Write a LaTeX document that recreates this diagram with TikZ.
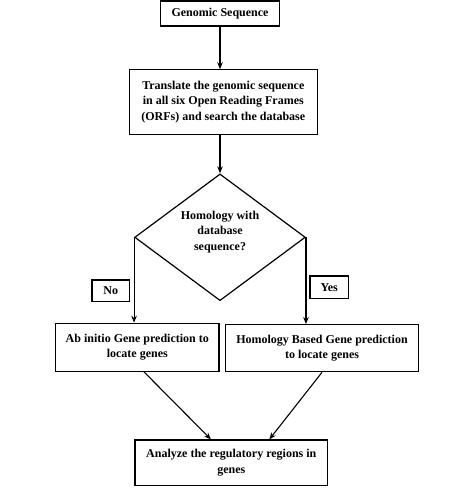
\documentclass[tikz,border=0pt]{standalone}
\usepackage{fontspec}
\setmainfont{Liberation Serif}
\usetikzlibrary{shapes.geometric,arrows.meta}
\begin{document}
\begin{tikzpicture}[x=1pt,y=-1pt,
  every node/.style={font=\bfseries\fontsize{12}{15.5}\selectfont, align=center, inner sep=0pt},
  box/.style={draw, line width=1.2pt, rectangle},
  dec/.style={draw, line width=1.2pt, diamond},
  arr/.style={line width=1.1pt, -{Stealth[length=7pt,width=5.5pt]}}]
\useasboundingbox (0,0) rectangle (474,497);
\node[box, minimum width=118.6pt, minimum height=25pt] (gs) at (220,13.5) {Genomic Sequence};
\node[box, minimum width=188pt, minimum height=64.3pt] (tr) at (223.3,102) {Translate the genomic sequence\\in all six Open Reading Frames\\(ORFs) and search the database};
\node[dec, minimum width=170.7pt, minimum height=126.7pt] (hom) at (220,237.3) {};
\node (homt) at (220,232) {Homology with\\database\\sequence?};
\node[box, minimum width=37.3pt, minimum height=21.7pt] (no) at (110.7,290.8) {No};
\node[box, minimum width=38.3pt, minimum height=22.3pt] (yes) at (329.2,287.2) {Yes};
\node[box, minimum width=163.3pt, minimum height=48pt] (ab) at (137.3,347.3) {Ab initio Gene prediction to\\locate genes};
\node[box, minimum width=192.7pt, minimum height=47pt] (hb) at (322,348.2) {Homology Based Gene prediction\\to locate genes};
\node[box, minimum width=192.7pt, minimum height=45.3pt] (an) at (231.3,462.7) {Analyze the regulatory regions in\\genes};
\draw[arr] (gs.south) -- (gs.south |- tr.north);
\draw[arr] (hom.north |- tr.south) -- (hom.north);
\draw[arr] (hom.west) -- (hom.west |- ab.north);
\draw[arr] (hom.east) -- (hom.east |- hb.north);
\draw[arr] ([xshift=6.7pt]ab.south) -- ([xshift=-20.3pt]an.north);
\draw[arr] (hb.south) -- ([xshift=38pt]an.north);
\end{tikzpicture}
\end{document}
